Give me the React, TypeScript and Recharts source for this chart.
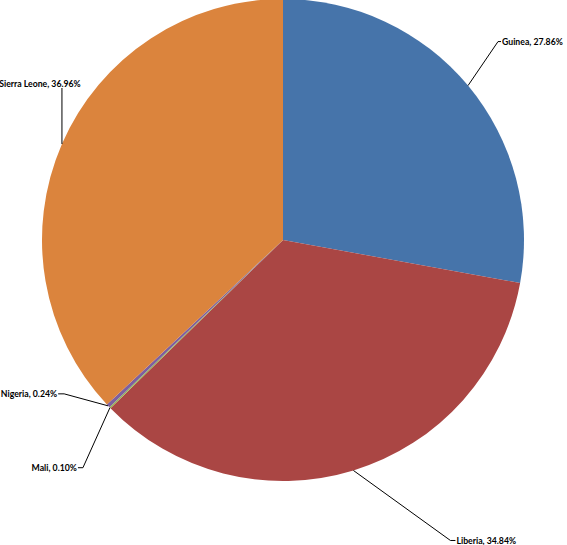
import { PieChart, Pie, Cell } from 'recharts';

const countries = ['Guinea', 'Liberia', 'Mali', 'Nigeria', 'Sierra Leone'];
const shares = [27.86, 34.84, 0.1, 0.24, 36.96];
const colors = ['#4674AA', '#AA4644', '#98B954', '#7D5FA0', '#DB843D'];

// leader line elbow offsets from the slice edge, plus horizontal tail
const leaders = [
  { dx: 30, dy: -44, tail: 3, anchor: 'start' },
  { dx: 97, dy: 70, tail: 5, anchor: 'start' },
  { dx: -27, dy: 60, tail: -5, anchor: 'end' },
  { dx: -44, dy: -12, tail: -6, anchor: 'end' },
  { dx: 0, dy: -56, tail: 0, anchor: 'middle' },
];

const RAD = Math.PI / 180;
const FONT = "Lato, 'Open Sans', sans-serif";

// eslint-disable-next-line @typescript-eslint/no-explicit-any
function LeaderLabel(props: any) {
  const { cx, cy, midAngle, outerRadius, index, name, value } = props;
  const l = leaders[index];
  const sx = cx + outerRadius * Math.cos(-midAngle * RAD);
  const sy = cy + outerRadius * Math.sin(-midAngle * RAD);
  const ex = sx + l.dx;
  const ey = sy + l.dy;
  const tx = ex + l.tail;
  const isSL = index === 4;
  const textX = isSL ? tx - 22 : tx + (l.tail > 0 ? 1 : l.tail < 0 ? -1 : 0);
  const textY = isSL ? ey - 5 : ey;
  return (
    <g>
      <polyline
        points={`${sx},${sy} ${ex},${ey} ${tx},${ey}`}
        fill="none"
        stroke="#000"
        strokeWidth={1}
      />
      <text
        x={textX}
        y={textY}
        textAnchor={l.anchor}
        dominantBaseline="central"
        fontSize={8.7}
        fontFamily={FONT}
        fontWeight="bold"
        fill="#000"
      >
        {`${name}, ${value.toFixed(2)}%`}
      </text>
    </g>
  );
}

export default function App() {
  const data = countries.map((name, i) => ({ name, value: shares[i] }));
  return (
    <div style={{ position: 'absolute', left: 0, top: 0, width: 567, height: 545, background: '#fff' }}>
      <PieChart width={567} height={545} margin={{ top: 0, right: 0, bottom: 0, left: 0 }}>
        <Pie
          data={data}
          dataKey="value"
          nameKey="name"
          cx={283}
          cy={240}
          outerRadius={241}
          startAngle={90}
          endAngle={-270}
          stroke="none"
          labelLine={false}
          label={LeaderLabel}
          isAnimationActive={false}
        >
          {data.map((d, i) => (
            <Cell key={d.name} fill={colors[i]} />
          ))}
        </Pie>
      </PieChart>
    </div>
  );
}
